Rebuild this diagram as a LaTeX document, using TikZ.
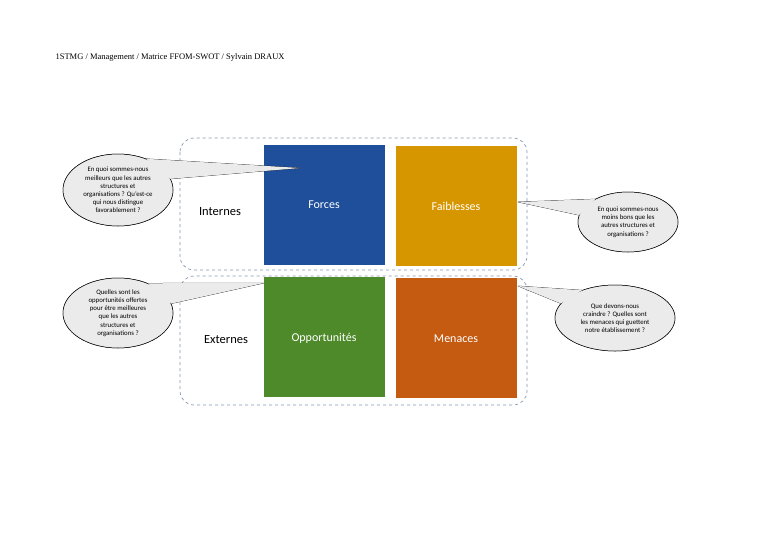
\documentclass[tikz,border=0pt]{standalone}
\usepackage{fontspec}
\setmainfont{Carlito}
\newfontfamily\timesf{Liberation Serif}
\usetikzlibrary{shapes.geometric}
\definecolor{cblue}{HTML}{1F4E9A}
\definecolor{cgold}{HTML}{D69600}
\definecolor{cgreen}{HTML}{4E8A2A}
\definecolor{corange}{HTML}{C55A11}
\definecolor{cdash}{HTML}{8497B0}
\definecolor{cbub}{HTML}{EBEBEB}
\begin{document}
\begin{tikzpicture}[x=1pt,y=-1pt,
  quad/.style={minimum width=121pt,minimum height=120pt,inner sep=0pt,text=white,font=\fontsize{12}{14}\selectfont},
  frame/.style={draw=cdash,dashed,rounded corners=14pt,line width=0.7pt},
  bub/.style={ellipse,fill=cbub,draw=black,line width=0.5pt,inner sep=0pt,align=center,font=\fontsize{6.8}{8.2}\selectfont},
  wedge/.style={fill=cbub,draw=black,line width=0.5pt,line join=round},
  side/.style={font=\fontsize{12.5}{14}\selectfont}]
\useasboundingbox (0,0) rectangle (768,543);
\node[anchor=west,font=\timesf\fontsize{8.5}{10}\selectfont] (hdr) at (52,57) {1STMG / Management / Matrice FFOM-SWOT / Sylvain DRAUX};
\draw[frame] (180,138) rectangle (527,270);
\draw[frame] (180,276) rectangle (527,405);
\node[quad,fill=cblue,anchor=north west] (F) at (264,145) {};
\node[quad,fill=cgold,anchor=north west] (W) at (396,146) {};
\node[quad,fill=cgreen,anchor=north west] (O) at (264,277) {};
\node[quad,fill=corange,anchor=north west] (M) at (396,278) {};
\node[text=white,font=\fontsize{12}{14}\selectfont] (Ft) at (324,205) {Forces};
\node[text=white,font=\fontsize{12}{14}\selectfont] (Wt) at (456,206) {Faiblesses};
\node[text=white,font=\fontsize{12}{14}\selectfont] (Ot) at (324,338) {Opportunités};
\node[text=white,font=\fontsize{12}{14}\selectfont] (Mt) at (456,339) {Menaces};
\node[side] (int) at (220,212) {Internes};
\node[side] (ext) at (226,340) {Externes};
% callouts
\coordinate (t1) at (300,168);
\coordinate (t2) at (518,202);
\coordinate (t3) at (264,283);
\coordinate (t4) at (518,286);
\node[bub,minimum width=110pt,minimum height=72pt] (b1) at (118,190) {En quoi sommes-nous\\meilleurs que les autres\\structures et\\organisations ? Qu'est-ce\\qui nous distingue\\favorablement ?};
\node[bub,minimum width=100pt,minimum height=60pt] (b2) at (628,222) {En quoi sommes-nous\\moins bons que les\\autres structures et\\organisations ?};
\node[bub,minimum width=110pt,minimum height=70pt] (b3) at (118,313) {Quelles sont les\\opportunités offertes\\pour être meilleures\\que les autres\\structures et\\organisations ?};
\node[bub,minimum width=120pt,minimum height=66pt] (b4) at (615,318) {Que devons-nous\\craindre ? Quelles sont\\les menaces qui guettent\\notre établissement ?};
\draw[wedge] (b1.48) -- (t1) -- (b1.12) -- cycle;
\draw[wedge] (b2.172) -- (t2) -- (b2.145) -- cycle;
\draw[wedge] (b3.45) -- (t3) -- (b3.10) -- cycle;
\draw[wedge] (b4.165) -- (t4) -- (b4.140) -- cycle;
\node[bub,minimum width=110pt,minimum height=72pt] at (b1) {En quoi sommes-nous\\meilleurs que les autres\\structures et\\organisations ? Qu'est-ce\\qui nous distingue\\favorablement ?};
\node[bub,minimum width=100pt,minimum height=60pt] at (b2) {En quoi sommes-nous\\moins bons que les\\autres structures et\\organisations ?};
\node[bub,minimum width=110pt,minimum height=70pt] at (b3) {Quelles sont les\\opportunités offertes\\pour être meilleures\\que les autres\\structures et\\organisations ?};
\node[bub,minimum width=120pt,minimum height=66pt] at (b4) {Que devons-nous\\craindre ? Quelles sont\\les menaces qui guettent\\notre établissement ?};
\fill[cbub] (b1.48) -- (t1) -- (b1.12) -- cycle;
\fill[cbub] (b2.172) -- (t2) -- (b2.145) -- cycle;
\fill[cbub] (b3.45) -- (t3) -- (b3.10) -- cycle;
\fill[cbub] (b4.165) -- (t4) -- (b4.140) -- cycle;
\end{tikzpicture}
\end{document}
